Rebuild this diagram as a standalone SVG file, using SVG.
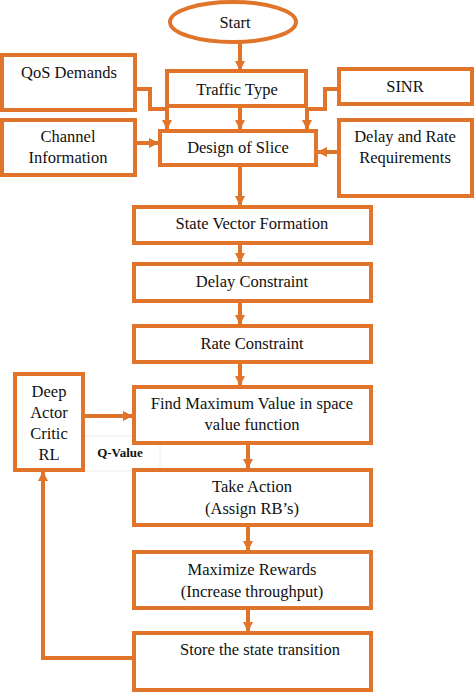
<svg xmlns="http://www.w3.org/2000/svg" width="474" height="692" viewBox="0 0 474 692">
<style>
.b{fill:#fff;stroke:#E0742A;stroke-width:4}
.c{fill:none;stroke:#E0742A;stroke-width:4}
.t{font-family:'Liberation Serif','DejaVu Serif',serif;font-size:16.5px;fill:#111;text-anchor:middle}
.q{font-size:13px;font-weight:bold}
</style>
<defs>
<marker id="ah" markerWidth="10" markerHeight="10" refX="9" refY="5" orient="auto" markerUnits="userSpaceOnUse">
<path d="M0,0 L10,5 L0,10 Z" fill="#E0742A"/>
</marker>
</defs>
<rect x="83" y="436" width="77" height="35" fill="none" stroke="#ececec" stroke-width="1"/>
<g id="connectors">
<path class="c" d="M240,43 V70" marker-end="url(#ah)"/>
<path class="c" d="M135,89 H150 V109 H167 V129" marker-end="url(#ah)"/>
<path class="c" d="M240,106 V129" marker-end="url(#ah)"/>
<path class="c" d="M339,89 H325 V109 H307 V129" marker-end="url(#ah)"/>
<path class="c" d="M135,143 H158" marker-end="url(#ah)"/>
<path class="c" d="M339,152 H318" marker-end="url(#ah)"/>
<path class="c" d="M240,165 V205" marker-end="url(#ah)"/>
<path class="c" d="M240,243 V262" marker-end="url(#ah)"/>
<path class="c" d="M240,301 V324" marker-end="url(#ah)"/>
<path class="c" d="M240,362 V385" marker-end="url(#ah)"/>
<path class="c" d="M83,416 H132" marker-end="url(#ah)"/>
<path class="c" d="M248,443 V468" marker-end="url(#ah)"/>
<path class="c" d="M248,525 V550" marker-end="url(#ah)"/>
<path class="c" d="M248,608 V631" marker-end="url(#ah)"/>
<path class="c" d="M134,658 H43 V472" marker-end="url(#ah)"/>
</g>
<g id="start"><ellipse class="b" cx="233" cy="22" rx="63" ry="20"/><text class="t" font-family="Liberation Serif" x="235" y="28">Start</text></g>
<g id="qos"><rect class="b" x="2" y="55" width="133" height="55"/><text class="t" x="69" y="78">QoS Demands</text></g>
<g id="traffic"><rect class="b" x="167" y="71" width="139" height="35"/><text class="t" x="237" y="95">Traffic Type</text></g>
<g id="sinr"><rect class="b" x="339" y="69" width="133" height="35"/><text class="t" x="405" y="92">SINR</text></g>
<g id="channel"><rect class="b" x="2" y="120" width="133" height="55"/><text class="t" x="68" y="142">Channel</text><text class="t" x="68" y="163">Information</text></g>
<g id="design"><rect class="b" x="160" y="131" width="156" height="34"/><text class="t" x="238" y="153">Design of Slice</text></g>
<g id="delayrate"><rect class="b" x="339" y="120" width="133" height="76"/><text class="t" x="405" y="142">Delay and Rate</text><text class="t" x="405" y="163">Requirements</text></g>
<g id="state"><rect class="b" x="134" y="207" width="237" height="36"/><text class="t" x="252" y="229">State Vector Formation</text></g>
<g id="delay"><rect class="b" x="134" y="264" width="237" height="37"/><text class="t" x="252" y="287">Delay Constraint</text></g>
<g id="rate"><rect class="b" x="134" y="326" width="237" height="36"/><text class="t" x="252" y="349">Rate Constraint</text></g>
<g id="findmax"><rect class="b" x="134" y="387" width="237" height="56"/><text class="t" x="252" y="409">Find Maximum Value in space</text><text class="t" x="252" y="430">value function</text></g>
<g id="deep"><rect class="b" x="15" y="374" width="68" height="96"/><text class="t" x="49" y="397">Deep</text><text class="t" x="49" y="418">Actor</text><text class="t" x="49" y="439">Critic</text><text class="t" x="49" y="460">RL</text></g>
<g id="qvalue"><text class="t q" x="120" y="457">Q-Value</text></g>
<g id="action"><rect class="b" x="134" y="470" width="237" height="55"/><text class="t" x="252" y="492">Take Action</text><text class="t" x="252" y="514">(Assign RB’s)</text></g>
<g id="maximize"><rect class="b" x="134" y="552" width="237" height="56"/><text class="t" x="252" y="575">Maximize Rewards</text><text class="t" x="252" y="597">(Increase throughput)</text></g>
<g id="store"><rect class="b" x="134" y="633" width="237" height="57"/><text class="t" x="260" y="655">Store the state transition</text></g>
</svg>
